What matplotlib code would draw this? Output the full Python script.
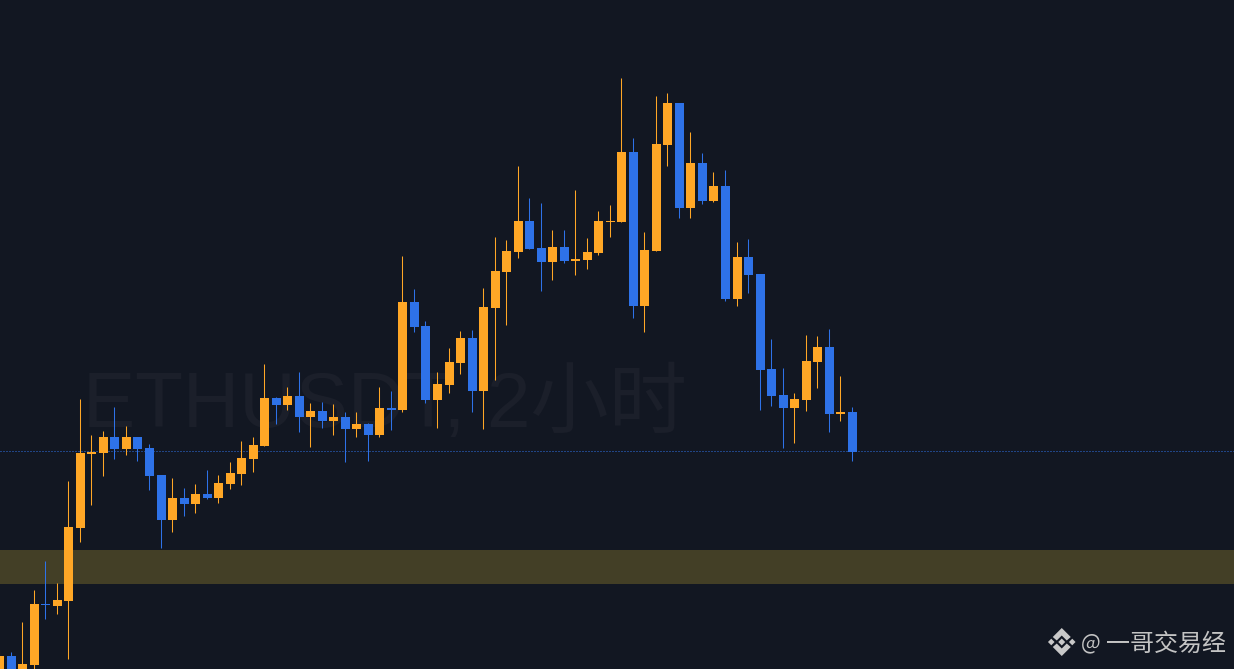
#!/usr/bin/env python3

from matplotlib import pyplot as plt
from matplotlib.patches import Polygon

# values, y axis runs top down like the screenshot
body_top = [656, 656, 664, 604, 604, 600, 527, 453, 452, 437, 437, 437, 437, 448, 475, 498, 498, 494, 494, 483,
            473, 458, 445, 398, 398, 396, 396, 411, 411, 417, 417, 424, 424, 408, 408, 302, 302, 326, 384, 362,
            338, 338, 307, 271, 251, 221, 221, 248, 247, 247, 259, 252, 221, 221, 152, 152, 250, 144, 103, 103,
            163, 163, 186, 186, 257, 257, 274, 369, 395, 399, 361, 347, 347, 412, 412]
body_bot = [680, 680, 680, 665, 605, 606, 601, 528, 454, 453, 449, 449, 449, 476, 520, 520, 504, 504, 498, 498,
            484, 474, 459, 446, 405, 405, 417, 417, 421, 421, 429, 429, 435, 435, 410, 410, 327, 400, 400, 385,
            363, 391, 391, 308, 272, 252, 249, 262, 262, 261, 261, 260, 253, 222, 222, 306, 306, 251, 145, 208,
            208, 201, 201, 299, 299, 275, 370, 396, 408, 408, 400, 362, 414, 414, 452]
wick_top = [650, 652, 622, 590, 561, 583, 481, 399, 435, 431, 407, 426, 437, 444, 475, 478, 488, 484, 470, 475,
            462, 441, 437, 364, 397, 387, 372, 403, 402, 404, 412, 412, 423, 387, 391, 256, 289, 321, 372, 348,
            331, 330, 288, 237, 240, 166, 198, 203, 230, 230, 190, 238, 211, 205, 78, 138, 232, 96, 93, 103,
            132, 153, 172, 170, 242, 239, 274, 339, 368, 393, 335, 336, 329, 376, 407]
wick_bot = [690, 690, 690, 680, 619, 614, 659, 542, 505, 476, 459, 455, 461, 490, 548, 532, 516, 513, 499, 503,
            489, 485, 472, 446, 424, 410, 432, 447, 428, 435, 462, 437, 461, 437, 430, 412, 332, 403, 428, 393,
            374, 412, 429, 380, 325, 258, 249, 291, 280, 263, 275, 269, 255, 237, 222, 318, 332, 251, 166, 218,
            218, 204, 202, 301, 306, 293, 410, 406, 448, 443, 411, 388, 432, 421, 461]
# o = orange candle, b = blue candle
kinds = ["o", "b", "o", "o", "b", "o", "o", "o", "o", "o",
         "b", "o", "b", "b", "b", "o", "b", "o", "b", "o",
         "o", "o", "o", "o", "b", "o", "b", "o", "b", "o",
         "b", "o", "b", "o", "b", "o", "b", "b", "o", "o",
         "o", "b", "o", "o", "o", "o", "b", "b", "o", "b",
         "o", "o", "o", "o", "o", "b", "o", "o", "o", "b",
         "o", "b", "o", "b", "o", "b", "b", "b", "b", "o",
         "o", "o", "b", "o", "b"]

band_top, band_bot = 550, 584
last_price = 451
watermark = "ETHUSDT, 2小时"
credit_at = "@"
credit_name = "一哥交易经"

bg = '#121722'
orange = '#FFA726'
blue = '#2E72E8'
colours = [orange if k == "o" else blue for k in kinds]
xs = list(range(len(kinds)))
spacing = 11.52
shift = 0.25 / spacing

fig = plt.figure(figsize=(12.34, 6.69), dpi=100, facecolor=bg)
ax = fig.add_axes([0, 0, 1, 1], facecolor=bg)
ax.set_xlim(shift, 1234 / spacing + shift)
ax.set_ylim(669, 0)
ax.axis('off')

ax.text(83 / spacing, 427, watermark, color='#1B1F2A', fontsize=56.3, va='baseline', ha='left',
        family=['Liberation Sans', 'Noto Sans CJK SC'], zorder=1)
ax.axhspan(band_top, band_bot, color='#433F26', lw=0, zorder=2)
ax.axhline(last_price, color=blue, lw=0.72, linestyle=(0, (1, 2)), zorder=3)

wick_xs = [x - 0.5 / spacing for x in xs]
wicks = ax.vlines(wick_xs, wick_top, wick_bot, colors=colours, linewidth=0.75, zorder=4)
wicks.set_snap(True)
heights = [b - t for t, b in zip(body_top, body_bot)]
ax.bar(xs, heights, bottom=body_top, width=0.78, color=colours, linewidth=0, zorder=5)

# binance mark next to the credit
logo = '#C8C8C8'
cx, cy = 1062 / spacing, 642
sx = 1 / spacing
def diamond(dx, dy, r):
    return [(cx + (dx - r) * sx, cy + dy), (cx + dx * sx, cy + dy - r),
            (cx + (dx + r) * sx, cy + dy), (cx + dx * sx, cy + dy + r)]
for dx, dy, r in [(-10.5, 0, 3.3), (10.5, 0, 3.3), (0, 0, 3.5)]:
    ax.add_patch(Polygon(diamond(dx, dy, r), color=logo, lw=0, zorder=6))
for pts in [[(-9, -5), (0, -14), (9, -5), (5, -1.5), (0, -6.5), (-5, -1.5)],
            [(-9, 5), (0, 14), (9, 5), (5, 1.5), (0, 6.5), (-5, 1.5)]]:
    ax.add_patch(Polygon([(cx + px * sx, cy + py) for px, py in pts], color=logo, lw=0, zorder=6))

ax.text(1081 / spacing, 649, credit_at, color='#C4C4C4', fontsize=15, va='baseline', ha='left',
        family=['Noto Sans CJK SC', 'DejaVu Sans'], zorder=6)
ax.text(1106 / spacing, 651, credit_name, color='#C4C4C4', fontsize=17.3, va='baseline', ha='left',
        family=['Noto Sans CJK SC', 'DejaVu Sans'], zorder=6)

plt.savefig('out.png', dpi=100, facecolor=bg)
